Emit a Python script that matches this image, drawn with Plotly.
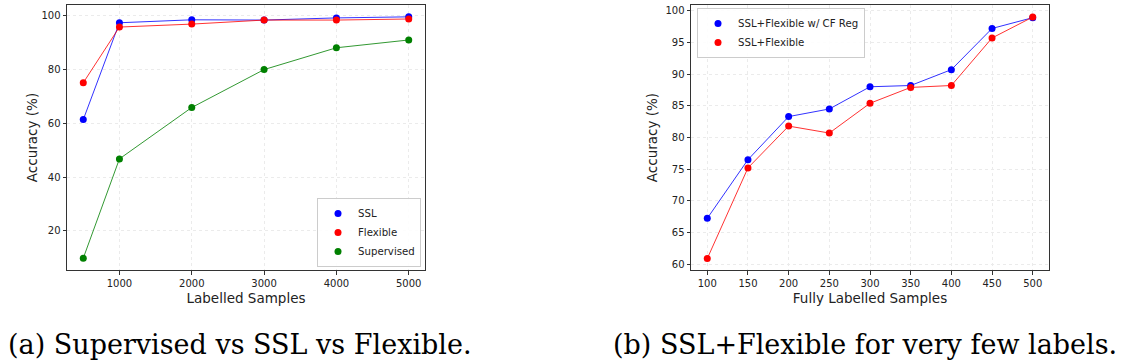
import plotly.graph_objects as go

# Panel (a)
samples_a = [500, 1000, 2000, 3000, 4000, 5000]
ssl_a = [61.4, 97.4, 98.5, 98.4, 99.2, 99.6]
flexible_a = [75.1, 95.8, 96.9, 98.4, 98.4, 98.8]
supervised_a = [9.9, 46.8, 65.9, 80.0, 88.1, 91.0]

# Panel (b)
samples_b = [100, 150, 200, 250, 300, 350, 400, 450, 500]
ssl_flex_cf = [67.25, 76.5, 83.3, 84.5, 88.0, 88.2, 90.7, 97.2, 98.9]
ssl_flex = [60.9, 75.2, 81.8, 80.7, 85.4, 87.9, 88.2, 95.7, 99.0]

BLUE, RED, GREEN = "#0000ff", "#ff0000", "#008000"
FONT = "DejaVu Sans"

fig = go.Figure()

def add_series(x, y, name, color, xa, ya, legend):
    fig.add_trace(go.Scatter(x=x, y=y, mode="lines", line=dict(color=color, width=1),
                             opacity=0.8, showlegend=False, xaxis=xa, yaxis=ya, hoverinfo="skip"))
    fig.add_trace(go.Scatter(x=x, y=y, mode="markers", name=name,
                             marker=dict(color=color, size=7), xaxis=xa, yaxis=ya,
                             legend=legend))

add_series(samples_a, ssl_a, "SSL", BLUE, "x", "y", "legend")
add_series(samples_a, flexible_a, "Flexible", RED, "x", "y", "legend")
add_series(samples_a, supervised_a, "Supervised", GREEN, "x", "y", "legend")
add_series(samples_b, ssl_flex_cf, "SSL+Flexible w/ CF Reg", BLUE, "x2", "y2", "legend2")
add_series(samples_b, ssl_flex, "SSL+Flexible", RED, "x2", "y2", "legend2")

axis_common = dict(showline=True, linecolor="#333333", linewidth=1, mirror=True,
                   ticks="outside", ticklen=3.5, tickcolor="#333333", tickwidth=1,
                   showgrid=True, gridcolor="#ebebeb", griddash="3px,3px", gridwidth=1,
                   zeroline=False, tickfont=dict(family=FONT, size=10, color="#222222"))

H = 364.0
W = 1126.0
ydom = [1 - 270 / H, 1 - 5 / H]
title_font = dict(family=FONT, size=13.5, color="#222222")
legend_font = dict(family=FONT, size=10.2, color="#222222")

fig.update_layout(
    width=1126, height=364,
    margin=dict(l=0, r=0, t=0, b=0),
    paper_bgcolor="white", plot_bgcolor="white",
    xaxis=dict(domain=[67 / W, 425 / W], range=[275, 5225], tickvals=[1000, 2000, 3000, 4000, 5000],
               title=dict(text="Labelled Samples", font=title_font, standoff=6),
               anchor="y", **axis_common),
    yaxis=dict(domain=ydom, range=[5.5, 104], tickvals=[20, 40, 60, 80, 100],
               title=dict(text="Accuracy (%)", font=title_font, standoff=0),
               anchor="x", **axis_common),
    xaxis2=dict(domain=[691 / W, 1049 / W], range=[80, 520], tickvals=samples_b,
                title=dict(text="Fully Labelled Samples", font=title_font, standoff=6),
                anchor="y2", **axis_common),
    yaxis2=dict(domain=ydom, range=[59.1, 100.9], tickvals=[60, 65, 70, 75, 80, 85, 90, 95, 100],
                title=dict(text="Accuracy (%)", font=title_font, standoff=4),
                anchor="x2", **axis_common),
    legend=dict(x=421 / W, y=1 - 267 / H, xanchor="right", yanchor="bottom", xref="paper", yref="paper",
                bgcolor="rgba(255,255,255,0.9)", bordercolor="#cccccc", borderwidth=1,
                font=legend_font, itemwidth=30, tracegroupgap=0),
    legend2=dict(x=697 / W, y=1 - 8 / H, xanchor="left", yanchor="top", xref="paper", yref="paper",
                 bgcolor="rgba(255,255,255,0.9)", bordercolor="#cccccc", borderwidth=1,
                 font=legend_font, itemwidth=30, tracegroupgap=0),
    annotations=[
        dict(text="(a) Supervised vs SSL vs Flexible.", x=240 / W, y=1 - 344 / H, xref="paper", yref="paper",
             xanchor="center", yanchor="middle", showarrow=False,
             font=dict(family="DejaVu Serif", size=27, color="black")),
        dict(text="(b) SSL+Flexible for very few labels.", x=865 / W, y=1 - 344 / H, xref="paper", yref="paper",
             xanchor="center", yanchor="middle", showarrow=False,
             font=dict(family="DejaVu Serif", size=27, color="black")),
    ],
)

fig.write_html("out.html", config={"displayModeBar": False},
               post_script="document.body.style.margin='0px';document.body.style.overflow='hidden';")
